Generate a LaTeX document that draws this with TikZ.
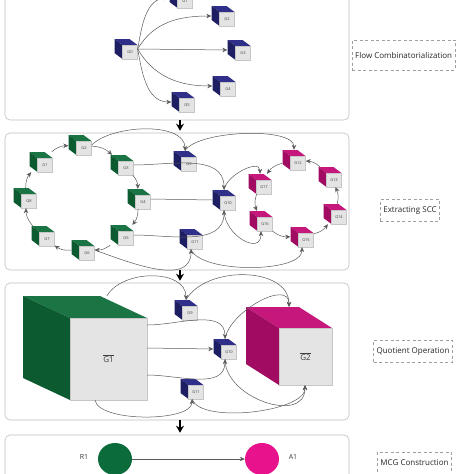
\documentclass[tikz,border=0pt]{standalone}
\usepackage{fontspec}
\setmainfont{Open Sans}
\usepackage{tikz}
\usetikzlibrary{arrows.meta,shapes.geometric}
\usepackage{xcolor}
\definecolor{navytop}{HTML}{30308A}
\definecolor{navyside}{HTML}{1E1E62}
\definecolor{greentop}{HTML}{1A7444}
\definecolor{greenside}{HTML}{0C5A30}
\definecolor{pinktop}{HTML}{C6177C}
\definecolor{pinkside}{HTML}{A10C62}
\definecolor{facegray}{HTML}{E4E4E4}
\definecolor{rgreen}{HTML}{0B6B3A}
\definecolor{apink}{HTML}{E8128C}
\tikzstyle{panel} = [draw=gray!50, rounded corners=5pt, line width=0.6pt, inner sep=0pt]
\tikzstyle{stagelabel} = [draw=gray!75, dash pattern=on 3pt off 2.5pt, font=\fontsize{8}{9}\selectfont, text=black!85, inner xsep=3pt, minimum height=22pt]
\tikzstyle{front} = [fill=facegray, draw=gray!45, line width=0.3pt, inner sep=0pt, font=\fontsize{4}{4}\selectfont, text=black!75]
\tikzstyle{cubebox} = [inner sep=0pt]
\tikzstyle{link} = [draw=black!65, line width=0.5pt, -{Stealth[length=5pt,width=4.5pt]}]
\tikzstyle{stage} = [line width=1.2pt, -{Stealth[length=7pt,width=8pt]}]
\tikzstyle{circ} = [ellipse, minimum width=34pt, minimum height=32pt, inner sep=0pt]
\tikzstyle{tag} = [font=\fontsize{7}{8}\selectfont, text=black!80]
% name, centre of front face, width, height, depth x, depth y, colour, label
\newcommand{\cube}[8]{%
  \begin{scope}[shift={(#2)}]
    \fill[#7top] ({-#3/2},{-#4/2}) -- ({#3/2},{-#4/2}) -- ({#3/2-#5},{-#4/2-#6}) -- ({-#3/2-#5},{-#4/2-#6}) -- cycle;
    \fill[#7side] ({-#3/2},{-#4/2}) -- ({-#3/2},{#4/2}) -- ({-#3/2-#5},{#4/2-#6}) -- ({-#3/2-#5},{-#4/2-#6}) -- cycle;
    \node[front, minimum width=#3, minimum height=#4] at (0,0) {#8};
    \node[cubebox, minimum width=#3+#5, minimum height=#4+#6] (#1) at ({-#5/2},{-#6/2}) {};
  \end{scope}}
\newcommand{\smallcube}[4]{\cube{#1}{#2}{15}{14}{8}{6}{#3}{#4}}

\begin{document}
\begin{tikzpicture}[x=1pt,y=-1pt]
\useasboundingbox (0,0) rectangle (474,474);
\clip (0,0) rectangle (474,474);

% panels
\node[panel, minimum width=344, minimum height=140] (flow) at (177,50) {};
\node[panel, minimum width=344, minimum height=137] (scc) at (177,201.5) {};
\node[panel, minimum width=344, minimum height=137] (quot) at (177,351.5) {};
\node[panel, minimum width=344, minimum height=65] (mcg) at (177,467.5) {};
\draw[stage] ([xshift=3pt]flow.south) -- ([xshift=3pt,yshift=2pt]scc.north);
\draw[stage] ([xshift=3pt]scc.south) -- ([xshift=3pt,yshift=2pt]quot.north);
\draw[stage] ([xshift=3pt]quot.south) -- ([xshift=3pt,yshift=2pt]mcg.north);

% stage labels
\node[stagelabel, anchor=west, minimum height=30pt] (lflow) at (352,55) {Flow Combinatorialization\hspace{4pt}};
\node[stagelabel] (lscc) at (410,210.5) {Extracting SCC};
\node[stagelabel] (lquot) at (413,351.5) {Quotient Operation};
\node[stagelabel] (lmcg) at (414.5,463) {MCG Construction};

% flow combinatorialization
\smallcube{f0}{130,52}{navy}{G0}
\smallcube{f1}{185,1}{navy}{G1}
\smallcube{f2}{227,19}{navy}{G2}
\smallcube{f3}{243,53}{navy}{G3}
\smallcube{f4}{228,89}{navy}{G4}
\smallcube{f5}{187,105}{navy}{G5}
\draw[link] (f0.east) to[out=80,in=180] (f1.west);
\draw[link] (f0.east) to[out=60,in=180] (f2.west);
\draw[link] (f0.east) -- (f3.west);
\draw[link] (f0.east) to[out=-60,in=180] (f4.west);
\draw[link] (f0.east) to[out=-80,in=180] (f5.west);

% extracting SCC
\smallcube{s1}{45,165}{green}{G1}
\smallcube{s2}{84,148}{green}{G2}
\smallcube{s3}{126,168}{green}{G3}
\smallcube{s4}{143,202}{green}{G4}
\smallcube{s5}{126,238}{green}{G5}
\smallcube{s6}{87,253}{green}{G6}
\smallcube{s7}{47,239}{green}{G7}
\smallcube{s8}{29,201}{green}{G8}
\smallcube{s9}{189,164}{navy}{G9}
\smallcube{s10}{228,203}{navy}{G10}
\smallcube{s11}{195,242}{navy}{G11}
\smallcube{s12}{298,163}{pink}{G12}
\smallcube{s13}{334,180}{pink}{G13}
\smallcube{s14}{339,217}{pink}{G14}
\smallcube{s15}{306,240}{pink}{G15}
\smallcube{s16}{265,224}{pink}{G16}
\smallcube{s17}{264,187}{pink}{G17}
\draw[link] (s1) to[bend left=20] (s2);
\draw[link] (s2) to[bend left=20] (s3);
\draw[link] (s3) to[bend left=20] (s4);
\draw[link] (s4) to[bend left=20] (s5);
\draw[link] (s5) to[bend left=20] (s6);
\draw[link] (s6) to[bend left=20] (s7);
\draw[link] (s7) to[bend left=20] (s8);
\draw[link] (s8) to[bend left=20] (s1);
\draw[link] (s12) to[bend right=20] (s17);
\draw[link] (s17) to[bend right=20] (s16);
\draw[link] (s16) to[bend right=20] (s15);
\draw[link] (s15) to[bend right=20] (s14);
\draw[link] (s14) to[bend right=20] (s13);
\draw[link] (s13) to[bend right=20] (s12);
\draw[link] (s2.east) to[out=45,in=90,looseness=0.8] (s9.north);
\draw[link] (s9.north) to[out=60,in=90,looseness=0.55] (s12.north);
\draw[link] (s3.east) to[out=0,in=90] (s10.north);
\draw[draw=black!65, line width=0.5pt] (s4.east) -- (s10.west);
\draw[link] (s5.east) to[out=0,in=-90] (s10.south);
\draw[link] (s6.east) to[out=-20,in=-90] (s11.south);
\draw[link] (s11.south) to[out=-70,in=-90,looseness=0.6] (s15.south);
\draw[link] (s10.north) to[out=80,in=90] (s17.north);
\draw[link] (s10.south) to[out=-90,in=-90,looseness=1.5] (s16.south);

% quotient operation
\cube{q1}{108.5,359}{77}{82}{47}{22}{green}{\fontsize{8}{8}\selectfont$\overline{\mbox{G1}}$}
\cube{q2}{305.5,356.5}{53}{57}{33}{21}{pink}{\fontsize{8}{8}\selectfont$\overline{\mbox{G2}}$}
\smallcube{q9}{190,313}{navy}{G9}
\smallcube{q10}{229,352}{navy}{G10}
\smallcube{q11}{196,392}{navy}{G11}
\draw[link] ([xshift=22pt]q1.north) to[out=60,in=90] (q9.north);
\draw[link] (q9.north) to[out=60,in=90] (q2.north);
\draw[link] (q10.north) to[out=80,in=90] (q2.north);
\draw[link] ([yshift=23pt]q1.east) to[out=0,in=90] (q10.north);
\draw[link] (q1.east) -- (q10.west);
\draw[link] ([yshift=-27pt]q1.east) to[out=0,in=-90] (q10.south);
\draw[link] (q10.south) to[out=-90,in=-90,looseness=1.2] ([xshift=16pt]q2.south);
\draw[link] ([xshift=10pt]q1.south) to[out=-80,in=-90,looseness=0.6] (q11.south);
\draw[link] (q11.south) to[out=-70,in=-90,looseness=0.6] ([xshift=16pt]q2.south);

% MCG construction
\node[circ, fill=rgreen] (r1) at (115,459) {};
\node[circ, fill=apink] (a1) at (262,459) {};
\node[tag] (r1tag) at (84,457) {R1};
\node[tag] (a1tag) at (293,457) {A1};
\draw[link] (r1) -- (a1);
\end{tikzpicture}
\end{document}
